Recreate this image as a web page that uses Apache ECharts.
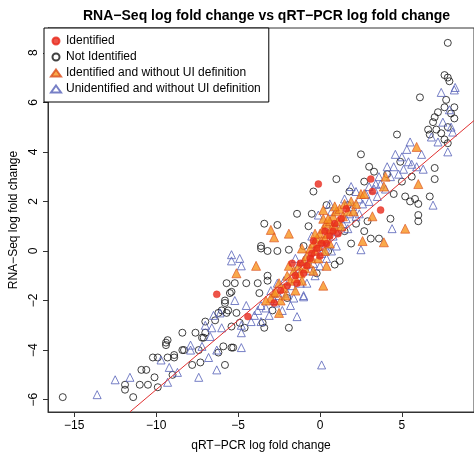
<!DOCTYPE html>
<html>
<head>
<meta charset="utf-8">
<script src="https://cdn.jsdelivr.net/npm/echarts@6/dist/echarts.min.js"></script>
<style>html,body{margin:0;padding:0;background:#fff}#main{width:474px;height:458px}</style>
</head>
<body>
<div id="main"></div>
<script>
// 图例名称
var seriesNames = ['Identified', 'Not Identified', 'Identified and without UI definition', 'Unidentified and without UI definition'];

// Identified (red filled circles)
var identified = [
	[-2.0,-1.4],[-1.5,-1.0],[-1.2,-0.5],[-0.8,-0.6],[-0.5,-0.1],[-0.2,0.1],[0.1,0.3],[0.3,0.8],
	[0.6,0.6],[0.9,1.1],[1.3,1.3],[-1.0,-0.9],[-2.4,-1.6],[-0.4,0.4],[0.0,-0.2],[1.6,1.7],[-1.7,-0.5],
	[-1.4,-1.3],[-0.6,-0.3],[0.4,0.3],[0.8,0.8],[-2.8,-2.1],[1.1,0.7],
	[-6.3,-1.75],[-4.4,-2.65],[-0.1,2.7],[3.1,2.9],[3.2,2.4],[3.7,1.65]
];

// Not Identified (black open circles)
var notIdentified = [
	[-15.7,-5.9],[-11.9,-5.4],[-11.9,-5.6],[-11.4,-5.9],[-11,-5.4],[-10.5,-5.4],[-9.9,-5.5],[-10.9,-4.8],
	[-10.6,-4.8],[-10.1,-5.1],[-10.2,-4.3],[-9.3,-4.3],[-9.4,-3.7],[-9.3,-3.6],[-8.9,-4.3],[-8.4,-4.0],
	[-8.4,-3.3],[-7.8,-4.6],[-7.6,-3.3],[-7.3,-4.5],[-7.2,-3.5],[-6.2,-4.1],[-5.8,-4.6],[-5.8,-2.1],
	[-5.7,-1.3],[-5.5,-1.7],[-5.4,-3.9],[-5.7,-2.5],[-6.4,-2.8],[-9.0,-5.0],[2.5,3.9],[1.0,2.9],
	[-0.4,2.4],[-1.4,1.5],[-3.4,1.1],[-2.6,1.05],[-3.6,0.1],[-3.6,0.2],[-3.2,0.0],[-2.6,0.0],
	[-1.9,0.05],[-5.2,-1.3],[-4.5,-1.3],[-5.4,-1.65],[-5.8,-2.0],[-1.9,-3.1],[-6.2,-2.5],[-5.6,-2.4],
	[-5.1,-2.5],[-3.5,-2.9],[1.9,0.3],[3.1,0.5],[2.7,0.8],[0.9,-0.55],[1.2,-0.4],[0.4,1.85],
	[1.7,1.85],[2.7,2.8],[-0.7,1.0],[7.8,8.4],[7.6,7.1],[7.8,7.0],[7.9,6.85],[6.1,6.2],
	[7.7,6.1],[7.6,5.8],[8.2,5.8],[8.0,5.55],[8.2,5.35],[7.2,5.6],[7.0,5.4],[6.9,5.2],
	[7.1,4.9],[7.8,5.0],[7.4,4.75],[7.6,4.5],[7.8,4.35],[6.6,4.9],[6.7,4.7],[4.7,4.7],
	[4.1,3.1],[7.0,3.35],[7.0,2.9],[5.2,2.2],[5.5,2.0],[5.8,2.1],[6.0,1.9],[6.7,2.2],
	[6.0,1.45],[6.0,1.2],[4.3,1.3],[3.6,0.5],[-3.2,-1.0],[-3.2,-1.2],[-3.7,-1.7],[-3.8,-1.3],
	[-6.0,-2.4],[-7.0,-2.85],[-7.0,-3.3],[-5.4,-3.05],[-4.9,-2.9],[-4.6,-3.1],[-3.4,-3.1],[-7.1,-3.5],
	[-5.9,-3.85],[-5.3,-3.9],[-7.4,-4.0],[-8.3,-4.0],[-9.4,-3.8],[-9.9,-4.3],[-8.9,-4.2],
	[-2.0,-1.9],[-1.0,0.2],[0.5,0.0],[1.5,0.8],[2.2,1.1],[-2.9,-2.4],[-0.2,-0.9],[1.8,2.4],
	[3.0,3.4],[4.5,2.3],[5.0,2.8],[4.9,3.6],[5.6,3.0],[2.9,1.2],[-0.5,1.5],[3.3,3.2]
];

// Identified and without UI definition (orange triangles)
var identifiedNoUI = [
	[-2.5,-1.3],[-2.2,-1.5],[-2.0,-1.0],[-1.8,-1.2],[-1.6,-0.8],[-1.5,-1.1],[-1.3,-0.6],[-1.2,-0.9],
	[-1.0,-0.4],[-0.9,-0.7],[-0.8,-0.2],[-0.7,-0.5],[-0.6,0.1],[-0.5,-0.3],[-0.4,0.3],[-0.3,0.0],
	[-0.2,0.5],[-0.1,0.2],[0.0,0.7],[0.1,0.4],[0.2,0.9],[0.3,0.5],[0.4,1.1],[0.5,0.7],
	[0.6,1.2],[0.7,0.9],[0.8,1.4],[0.9,1.0],[1.0,1.6],[1.1,1.2],[1.2,1.7],[1.4,1.4],
	[1.5,1.9],[1.7,1.6],[1.9,2.0],[-2.8,-1.7],[-3.0,-1.9],[-2.4,-2.0],[-1.9,-0.6],[-1.1,0.1],
	[-0.3,0.7],[0.2,1.3],[0.9,1.8],[-0.1,-0.3],[0.6,0.3],[-1.5,-1.6],
	[-2.1,-1.8],[-1.1,-1.2],[-0.4,-0.8],[0.3,0.0],[1.3,1.0],[2.2,1.9],[2.5,2.3],[-3.3,-2.0],
	[-3.0,0.85],[-1.9,0.7],[-2.8,0.55],[-3.9,-0.6],[-5.1,-0.9],[-2.7,-1.65],[0.2,-1.4],[-2.5,-2.5],
	[0.2,1.65],[0.5,1.3],[2.05,1.6],[2.7,2.3],[3.2,1.4],[2.6,0.4],[0.4,-0.6],[3.9,2.6],
	[4.0,3.0],[5.9,4.2],[6.0,2.7],[5.2,0.9],[3.9,0.35]
];

// Unidentified and without UI definition (blue open triangles)
var unidentifiedNoUI = [
	[-4.0,-2.6],[-3.6,-2.2],[-3.3,-2.3],[-3.0,-1.6],[-2.7,-2.1],[-2.5,-1.8],[-2.2,-1.2],[-2.0,-1.7],
	[-1.7,-1.4],[-1.4,-0.7],[-1.2,-1.3],[-0.9,-0.3],[-0.6,-0.8],[-0.4,-0.5],[-0.2,0.3],[0.1,-0.1],
	[0.3,0.2],[0.5,1.0],[0.8,0.6],[1.0,0.8],[1.2,1.0],[1.4,1.1],[1.6,1.3],[1.8,1.5],
	[2.0,1.8],[2.2,1.4],[2.4,2.1],[2.6,1.9],[2.8,2.3],[3.0,2.0],[3.3,2.5],[3.5,2.2],
	[3.7,2.7],[4.0,2.5],[4.3,3.0],[1.0,0.2],[0.4,-0.3],[-0.3,-1.0],[-1.0,-1.8],[-1.8,-2.2],
	[2.2,2.4],[1.5,2.1],[0.7,1.6],[-4.5,-2.2],[-4.8,-3.0],
	[-3.1,-2.6],[-2.3,-2.4],[-1.6,-1.9],[-0.8,-1.3],[0.0,-0.6],[0.7,0.0],[1.7,0.9],[2.4,1.5],
	[3.0,2.6],[3.6,3.0],[4.1,3.4],[-2.6,-1.3],[-1.5,-0.3],[-0.5,0.6],[0.6,1.9],[1.9,2.6],
	[-13.6,-5.8],[-12.5,-5.2],[-11.6,-5.1],[-9.3,-5.3],[-9.7,-4.4],[-7.9,-3.8],[-7.4,-5.1],[-7.0,-3.0],
	[-6.8,-4.3],[-6.3,-4.8],[-4.8,-3.9],[-6.1,-2.5],[-9.2,-4.7],[-8.7,-4.9],[-5.4,-0.15],[-5.4,-0.4],
	[-4.9,-0.3],[-4.8,-0.6],[-1.0,-1.85],[-1.4,-2.65],[2.5,0.05],[-0.1,1.45],[3.4,2.7],[8.25,6.6],
	[8.2,6.5],[7.4,6.4],[8.1,4.8],[7.5,5.2],[7.9,5.7],[4.4,0.9],[6.9,1.85],[4.6,3.9],
	[5.0,3.8],[5.4,3.6],[5.1,3.3],[4.8,3.1],[5.6,3.5],[5.9,3.4],[6.3,3.3],[5.3,4.1],
	[4.5,3.4],[5.5,4.4],[6.2,3.9],[0.1,-4.6],[-5.2,-2.0],[-6.5,-2.6],[-6.6,-3.1],[-6.0,-3.1],
	[-4.8,-3.3],[-3.8,-2.4],[-3.6,-2.85],[-4.2,-2.85],[-6.7,-3.45],[-7.2,-3.85],[-6.3,-4.0],[-7.9,-4.0],
	[-2.8,-2.0],[7.2,4.4],[7.8,4.0],[8.0,5.0],[6.8,4.6]
];

// 坐标轴刻度
var xTicks = [-15, -10, -5, 0, 5];
var yTicks = [-6, -4, -2, 0, 2, 4, 6, 8];

// 拟合线 y = slope * x + intercept
var fitSlope = 0.56;
var fitIntercept = 0.0;
var xMin = -16.6, xMax = 9.4, yMin = -6.5, yMax = 9.0;
var fitX = [-11.6, xMax];

var myChart = echarts.init(document.getElementById('main'));

var option = {
	animation : false,
	textStyle : { fontFamily : 'Liberation Sans' },
	title : {
		text : 'RNA\u2212Seq log fold change vs qRT\u2212PCR log fold change',
		left : 78,
		top : 4,
		textStyle : { fontSize : 14, fontWeight : 'bold', color : '#000' }
	},
	legend : {
		orient : 'vertical',
		left : 44,
		top : 28,
		padding : [7, 8, 7, 6],
		itemGap : 4,
		itemWidth : 10,
		itemHeight : 7,
		borderColor : '#000',
		borderWidth : 1,
		borderRadius : 0,
		backgroundColor : '#fff',
		textStyle : { fontSize : 12, color : '#000' },
		data : seriesNames
	},
	grid : {
		left : 44, right : -2, top : 28, bottom : 46,
		show : true, borderColor : '#333', borderWidth : 1
	},
	xAxis : {
		type : 'value', min : xMin, max : xMax,
		name : 'qRT\u2212PCR log fold change', nameLocation : 'middle', nameGap : 28,
		nameTextStyle : { fontSize : 12, color : '#000' },
		splitLine : { show : false },
		axisLine : { onZero : false, lineStyle : { color : '#333' } },
		axisTick : { customValues : xTicks, length : 5, lineStyle : { color : '#333' } },
		axisLabel : { customValues : xTicks, color : '#000', fontSize : 12,
			formatter : function(v) { return String(v).replace('-', '\u2212'); } }
	},
	yAxis : {
		type : 'value', min : yMin, max : yMax,
		name : 'RNA\u2212Seq log fold change', nameLocation : 'middle', nameGap : 28,
		nameTextStyle : { fontSize : 12, color : '#000' },
		splitLine : { show : false },
		axisLine : { onZero : false, lineStyle : { color : '#333' } },
		axisTick : { customValues : yTicks, length : 5, lineStyle : { color : '#333' } },
		axisLabel : { customValues : yTicks, rotate : 90, color : '#000', fontSize : 12, margin : 8,
			formatter : function(v) { return String(v).replace('-', '\u2212'); } }
	},
	series : [ {
		name : seriesNames[1], type : 'scatter', symbol : 'circle', symbolSize : 7, z : 2,
		itemStyle : { color : 'rgba(0,0,0,0)', borderColor : '#111', borderWidth : 1 },
		data : notIdentified
	}, {
		name : seriesNames[3], type : 'scatter', symbol : 'triangle', symbolSize : 8, z : 3,
		itemStyle : { color : 'rgba(0,0,0,0)', borderColor : '#5560b8', borderWidth : 1 },
		data : unidentifiedNoUI
	}, {
		name : seriesNames[2], type : 'scatter', symbol : 'triangle', symbolSize : 9, z : 4,
		itemStyle : { color : '#f7931e', borderColor : '#d94a1a', borderWidth : 0.8 },
		data : identifiedNoUI
	}, {
		name : seriesNames[0], type : 'scatter', symbol : 'circle', symbolSize : 7, z : 5,
		itemStyle : { color : '#e8291c', borderColor : '#e8291c', borderWidth : 0.5 },
		data : identified
	}, {
		name : 'fit', type : 'line', symbol : 'none', z : 6, silent : true,
		lineStyle : { color : '#e03030', width : 1 },
		data : fitX.map(function(x) { return [x, fitSlope * x + fitIntercept]; })
	} ]
};
myChart.setOption(option);
</script>
</body>
</html>
